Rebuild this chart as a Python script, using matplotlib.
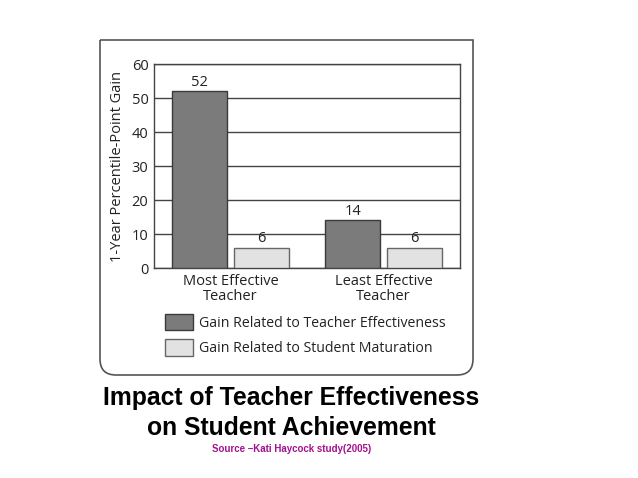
import matplotlib.pyplot as plt
from matplotlib.path import Path
from matplotlib.patches import PathPatch, Patch
import numpy as np

categories = ['Most Effective\nTeacher', 'Least Effective\nTeacher']
teacher_gain = [52, 14]
maturation_gain = [6, 6]
series_names = ['Gain Related to Teacher Effectiveness', 'Gain Related to Student Maturation']
yticks = [0, 10, 20, 30, 40, 50, 60]

dark = '#7b7b7b'
light = '#e2e2e2'
edge = '#3a3a3a'
chart_font = 'Open Sans'
fs = 10.5

fig = plt.figure(figsize=(6.38, 4.78), dpi=100)
fig.patch.set_facecolor('white')

# rounded frame behind the chart (pixel coords -> figure fraction)
W, H = 638, 478
def fx(px):
    return px / W
def fy(py):
    return 1 - py / H
l, r, t, b, rad = 100, 473, 40, 375, 16
verts = [(fx(l), fy(t)), (fx(l), fy(b - rad)), (fx(l), fy(b)), (fx(l + rad), fy(b)),
         (fx(r - rad), fy(b)), (fx(r), fy(b)), (fx(r), fy(b - rad)), (fx(r), fy(t)), (fx(l), fy(t))]
codes = [Path.MOVETO, Path.LINETO, Path.CURVE3, Path.CURVE3,
         Path.LINETO, Path.CURVE3, Path.CURVE3, Path.LINETO, Path.LINETO]
fig.patches.append(PathPatch(Path(verts, codes), transform=fig.transFigure,
                             facecolor='white', edgecolor='#555555', lw=1.2, zorder=-1))

ax = fig.add_axes([0.2414, 0.4393, 0.4796, 0.4268])
ax.set_zorder(2)
x = np.arange(len(categories))
w = 0.36
b1 = ax.bar(x - 0.2, teacher_gain, w, color=dark, edgecolor=edge, lw=1, zorder=3)
b2 = ax.bar(x + 0.2, maturation_gain, w, color=light, edgecolor='#666666', lw=1, zorder=3)

for bars, vals in [(b1, teacher_gain), (b2, maturation_gain)]:
    for bar, v in zip(bars, vals):
        ax.text(bar.get_x() + bar.get_width() / 2, v + 0.5, str(v), ha='center', va='bottom',
                fontsize=fs, family=chart_font, color='#222222')

ax.set_xlim(-0.5, 1.5)
ax.set_ylim(0, 60)
ax.set_yticks(yticks)
ax.set_xticks(x)
ax.set_xticklabels(categories, family=chart_font, fontsize=fs, color='#222222', linespacing=1.05)
for lab in ax.get_yticklabels():
    lab.set_family(chart_font)
    lab.set_fontsize(fs)
    lab.set_color('#222222')
ax.tick_params(length=0, pad=4)
ax.yaxis.grid(True, color='#444444', lw=1, zorder=0)
for s in ax.spines.values():
    s.set_color('#444444')
    s.set_linewidth(1)
ax.set_ylabel('1-Year Percentile-Point Gain', family=chart_font, fontsize=fs, color='#222222', labelpad=5)

handles = [Patch(facecolor=dark, edgecolor=edge), Patch(facecolor=light, edgecolor='#666666')]
leg = fig.legend(handles, series_names, loc='center left', bbox_to_anchor=(fx(152), fy(335)),
                 frameon=False, handlelength=2.0, handleheight=1.4, handletextpad=0.45,
                 labelspacing=0.6, prop={'family': chart_font, 'size': 10.2})
for txt in leg.get_texts():
    txt.set_color('#222222')

fig.text(fx(291), fy(413), 'Impact of Teacher Effectiveness\non Student Achievement', ha='center', va='center',
         family='Liberation Sans', fontweight='bold', fontsize=17.8, linespacing=1.27)
fig.text(fx(292), fy(449), 'Source \u2013Kati Haycock study(2005)', ha='center', va='center',
         family='Liberation Sans', fontweight='bold', fontsize=7, color='#a3118f')

fig.savefig('out.png', dpi=100)
